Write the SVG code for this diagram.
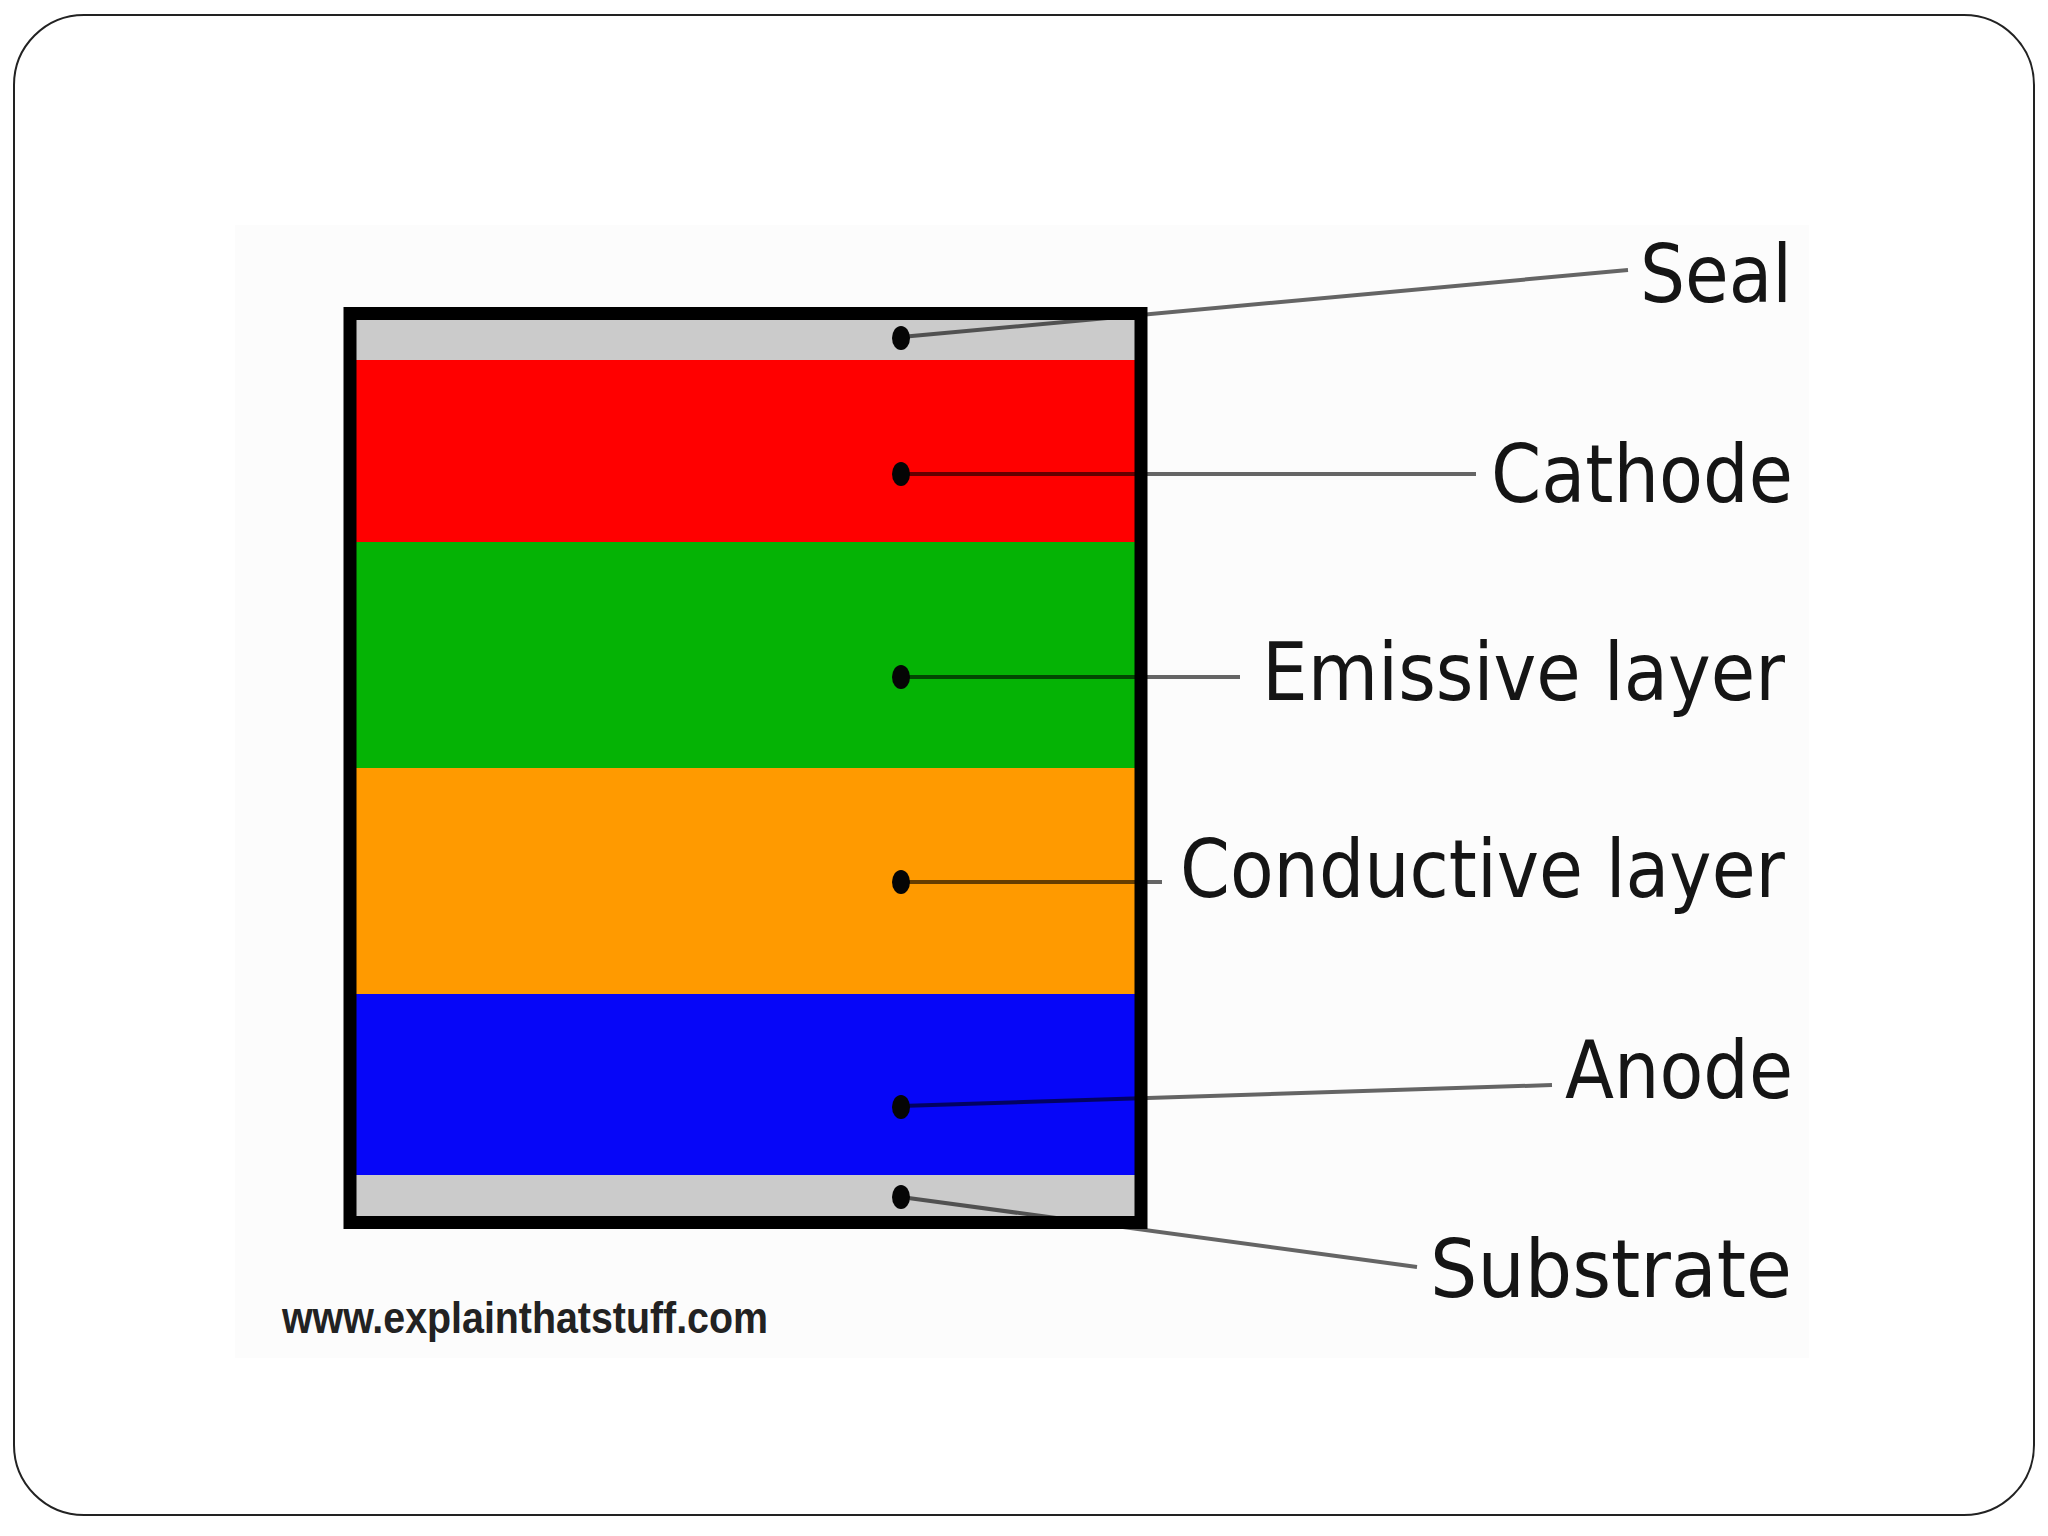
<svg xmlns="http://www.w3.org/2000/svg" width="2048" height="1536" viewBox="0 0 2048 1536">
<style>
.lbl{font-family:"DejaVu Sans","Liberation Sans",sans-serif;font-size:81px;fill:#151515}
.lead{stroke:#000;stroke-opacity:0.6;stroke-width:4;fill:none}
.dot{fill:#050505}
.web{font-family:"Liberation Sans",Arial,sans-serif;font-size:44px;font-weight:bold;fill:#222}
</style>
<rect x="0" y="0" width="2048" height="1536" fill="#fff"/>
<rect id="frame" x="14" y="15" width="2020" height="1500" rx="70" ry="70" fill="#fff" stroke="#222" stroke-width="2"/>
<rect x="235" y="225" width="1574" height="1133" fill="#fcfcfc"/>
<g id="stack">
  <rect id="seal" x="352" y="318" width="785" height="42" fill="#cbcbcb"/>
  <rect id="cathode" x="352" y="360" width="785" height="182" fill="#ff0000"/>
  <rect id="emissive" x="352" y="542" width="785" height="226" fill="#05b305"/>
  <rect id="conductive" x="352" y="768" width="785" height="226" fill="#ff9a00"/>
  <rect id="anode" x="352" y="994" width="785" height="181" fill="#0606f8"/>
  <rect id="substrate" x="352" y="1175" width="785" height="43" fill="#cbcbcb"/>
  <rect x="350" y="313.5" width="791" height="909" fill="none" stroke="#000" stroke-width="13"/>
</g>
<g id="connectors">
  <line class="lead" x1="901" y1="337" x2="1628" y2="270"/>
  <line class="lead" x1="901" y1="474" x2="1476" y2="474"/>
  <line class="lead" x1="901" y1="677" x2="1240" y2="677"/>
  <line class="lead" x1="901" y1="882" x2="1162" y2="882"/>
  <line class="lead" x1="901" y1="1106" x2="1552" y2="1085"/>
  <line class="lead" x1="901" y1="1197" x2="1417" y2="1267"/>
  <ellipse class="dot" cx="901" cy="338" rx="9" ry="12"/>
  <ellipse class="dot" cx="901" cy="474" rx="9" ry="12"/>
  <ellipse class="dot" cx="901" cy="677" rx="9" ry="12"/>
  <ellipse class="dot" cx="901" cy="882" rx="9" ry="12"/>
  <ellipse class="dot" cx="901" cy="1107" rx="9" ry="12"/>
  <ellipse class="dot" cx="901" cy="1197" rx="9" ry="12"/>
</g>
<g id="label-seal"><text class="lbl" x="1640" y="302" textLength="152" lengthAdjust="spacingAndGlyphs">Seal</text></g>
<g id="label-cathode"><text class="lbl" x="1491" y="502" textLength="302" lengthAdjust="spacingAndGlyphs">Cathode</text></g>
<g id="label-emissive"><text class="lbl" x="1262" y="700" textLength="523" lengthAdjust="spacingAndGlyphs">Emissive layer</text></g>
<g id="label-conductive"><text class="lbl" x="1180" y="897" textLength="605" lengthAdjust="spacingAndGlyphs">Conductive layer</text></g>
<g id="label-anode"><text class="lbl" x="1565" y="1098" textLength="228" lengthAdjust="spacingAndGlyphs">Anode</text></g>
<g id="label-substrate"><text class="lbl" x="1430" y="1297" textLength="362" lengthAdjust="spacingAndGlyphs">Substrate</text></g>
<g id="credit"><text class="web" x="282" y="1333" textLength="486" lengthAdjust="spacingAndGlyphs">www.explainthatstuff.com</text></g>
</svg>
